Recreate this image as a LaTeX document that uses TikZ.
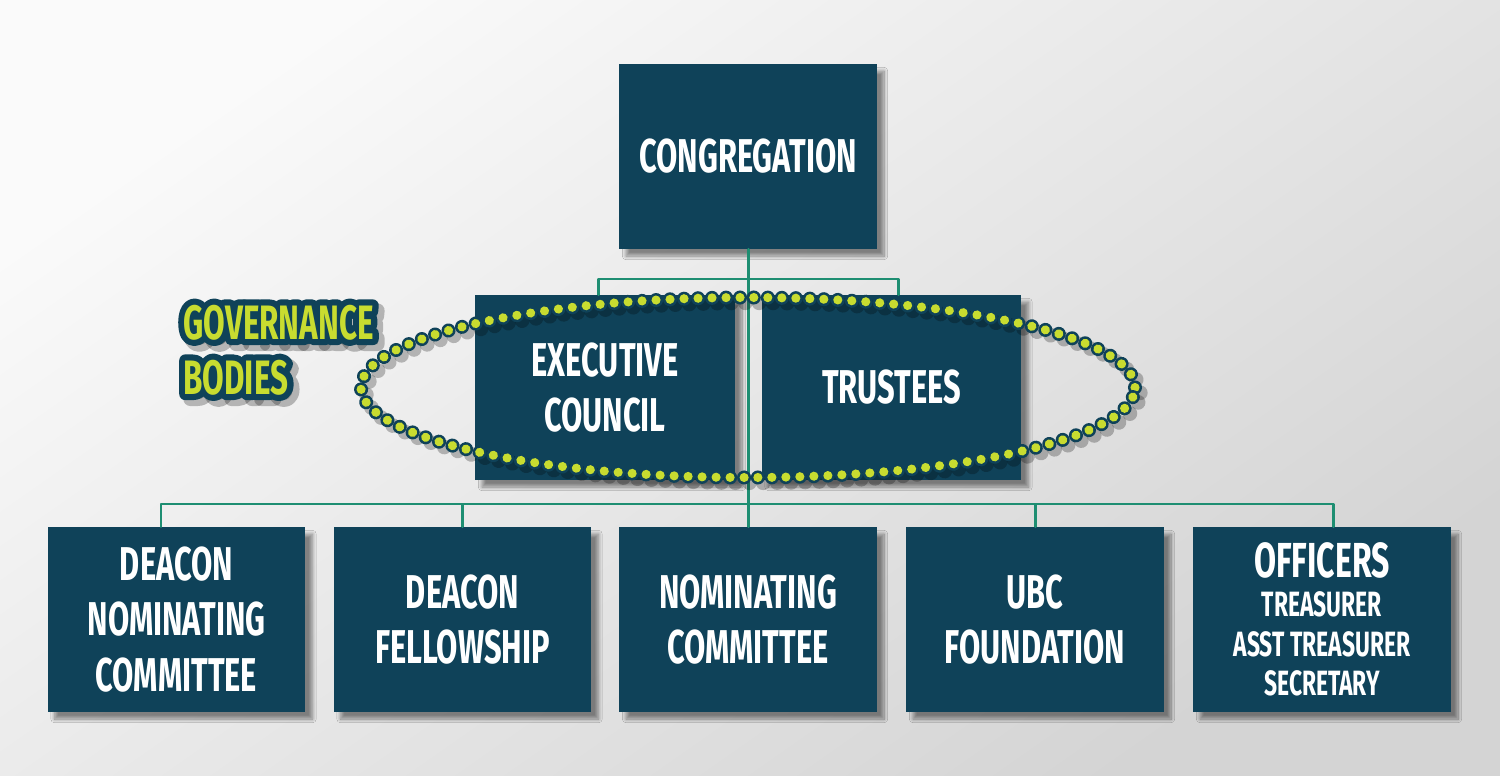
\documentclass[tikz,border=0pt]{standalone}
\usepackage{fontspec}
\setmainfont{Fira Sans}[FakeStretch=0.65]
\usetikzlibrary{calc}
\usetikzlibrary{decorations.markings}
\usetikzlibrary{shadows.blur}

\definecolor{boxblue}{HTML}{0F4259}
\definecolor{linkgreen}{HTML}{1E8E72}
\definecolor{dotlime}{HTML}{C8DC30}

% thick stroked letters for the outlined label
\newcommand\outlined[2]{\special{pdf:literal direct 2 Tr #1 w 1 j}#2\special{pdf:literal direct 0 Tr}}

\begin{document}
\begin{tikzpicture}[
				x=0.02cm,
				y=0.02cm,
				line cap=round,
				line join=round,
				unit/.style={fill=boxblue, text=white, align=center, inner sep=0pt,
					minimum width=5.16cm, minimum height=3.7cm,
					font=\bfseries\fontsize{27}{31.5}\selectfont,
					blur shadow={shadow xshift=4pt, shadow yshift=-4pt, shadow blur steps=10, shadow opacity=45}},
				link/.style={draw=linkgreen, line width=1.7pt},
				govtext/.style={anchor=base west, inner sep=0pt, text=dotlime,
					font=\bfseries\fontsize{27.5}{31}\selectfont},
				ring/.style={decoration={markings,
						mark=between positions 0 and 0.997 step 0.28cm with {#1}},
					postaction={decorate}}
				]
				% Background
				\useasboundingbox (0,0) rectangle (1500,775);
				\shade[top color=black!2, bottom color=black!17, shading angle=35] (0,0) rectangle (1500,775);
				
				% Top
				\node[unit] (cong) at (748,618.5) {CONGREGATION};
				
				% Governance bodies
				\node[unit, minimum width=5.2cm] (exec) at (605,387.5) {EXECUTIVE\\COUNCIL};
				\node[unit, minimum width=5.2cm] (trust) at (891.5,387.5) {TRUSTEES};
				
				% Bottom row
				\node[unit] (dnc) at (176.5,155.5) {DEACON\\NOMINATING\\COMMITTEE};
				\node[unit] (dfel) at (462.5,155.5) {DEACON\\FELLOWSHIP};
				\node[unit] (nomc) at (748,155.5) {NOMINATING\\COMMITTEE};
				\node[unit] (ubc) at (1035,155.5) {UBC\\FOUNDATION};
				\node[unit, font=\bfseries\fontsize{20}{22.5}\selectfont] (off) at (1322,155.5)
					{{\fontsize{28}{31.5}\selectfont OFFICERS}\\TREASURER\\ASST TREASURER\\SECRETARY};
				
				% Links
				\coordinate (govbus) at (748,496);
				\coordinate (lowbus) at (748,271);
				\draw[link] ($(exec.north)+(-7,0)$) |- (govbus) -| ($(trust.north)+(6.5,0)$);
				\draw[link] (cong.south) -- (nomc.north);
				\draw[link] ($(dnc.north)+(-15.5,0)$) |- (lowbus) -| ($(off.north)+(11,0)$);
				\foreach \n in {dfel,ubc}
				\draw[link] (\n.north) |- (lowbus);
				
				% Dotted ring
				\begin{scope}[shift={(3pt,-3pt)}]
					\path[ring={\fill[black, opacity=0.25] (0,0) circle (4.2pt);}]
						(748,387.5) ellipse[x radius=387, y radius=90];
				\end{scope}
				\path[ring={\fill[boxblue] (0,0) circle (4pt); \fill[dotlime] (0,0) circle (2.6pt);}]
					(748,387.5) ellipse[x radius=387, y radius=90];
				
				% Label
				\node[govtext, text=black, opacity=0.25] (govshad1) at (188,431) {\outlined{8}{GOVERNANCE}};
				\node[govtext, text=black, opacity=0.25] (govshad2) at (188,376) {\outlined{8}{BODIES}};
				\node[govtext, text=boxblue] (govrim1) at (183,436) {\outlined{7}{GOVERNANCE}};
				\node[govtext, text=boxblue] (govrim2) at (183,381) {\outlined{7}{BODIES}};
				\node[govtext] (govtop) at (183,436) {GOVERNANCE};
				\node[govtext] (govbot) at (183,381) {BODIES};
\end{tikzpicture}
\end{document}
